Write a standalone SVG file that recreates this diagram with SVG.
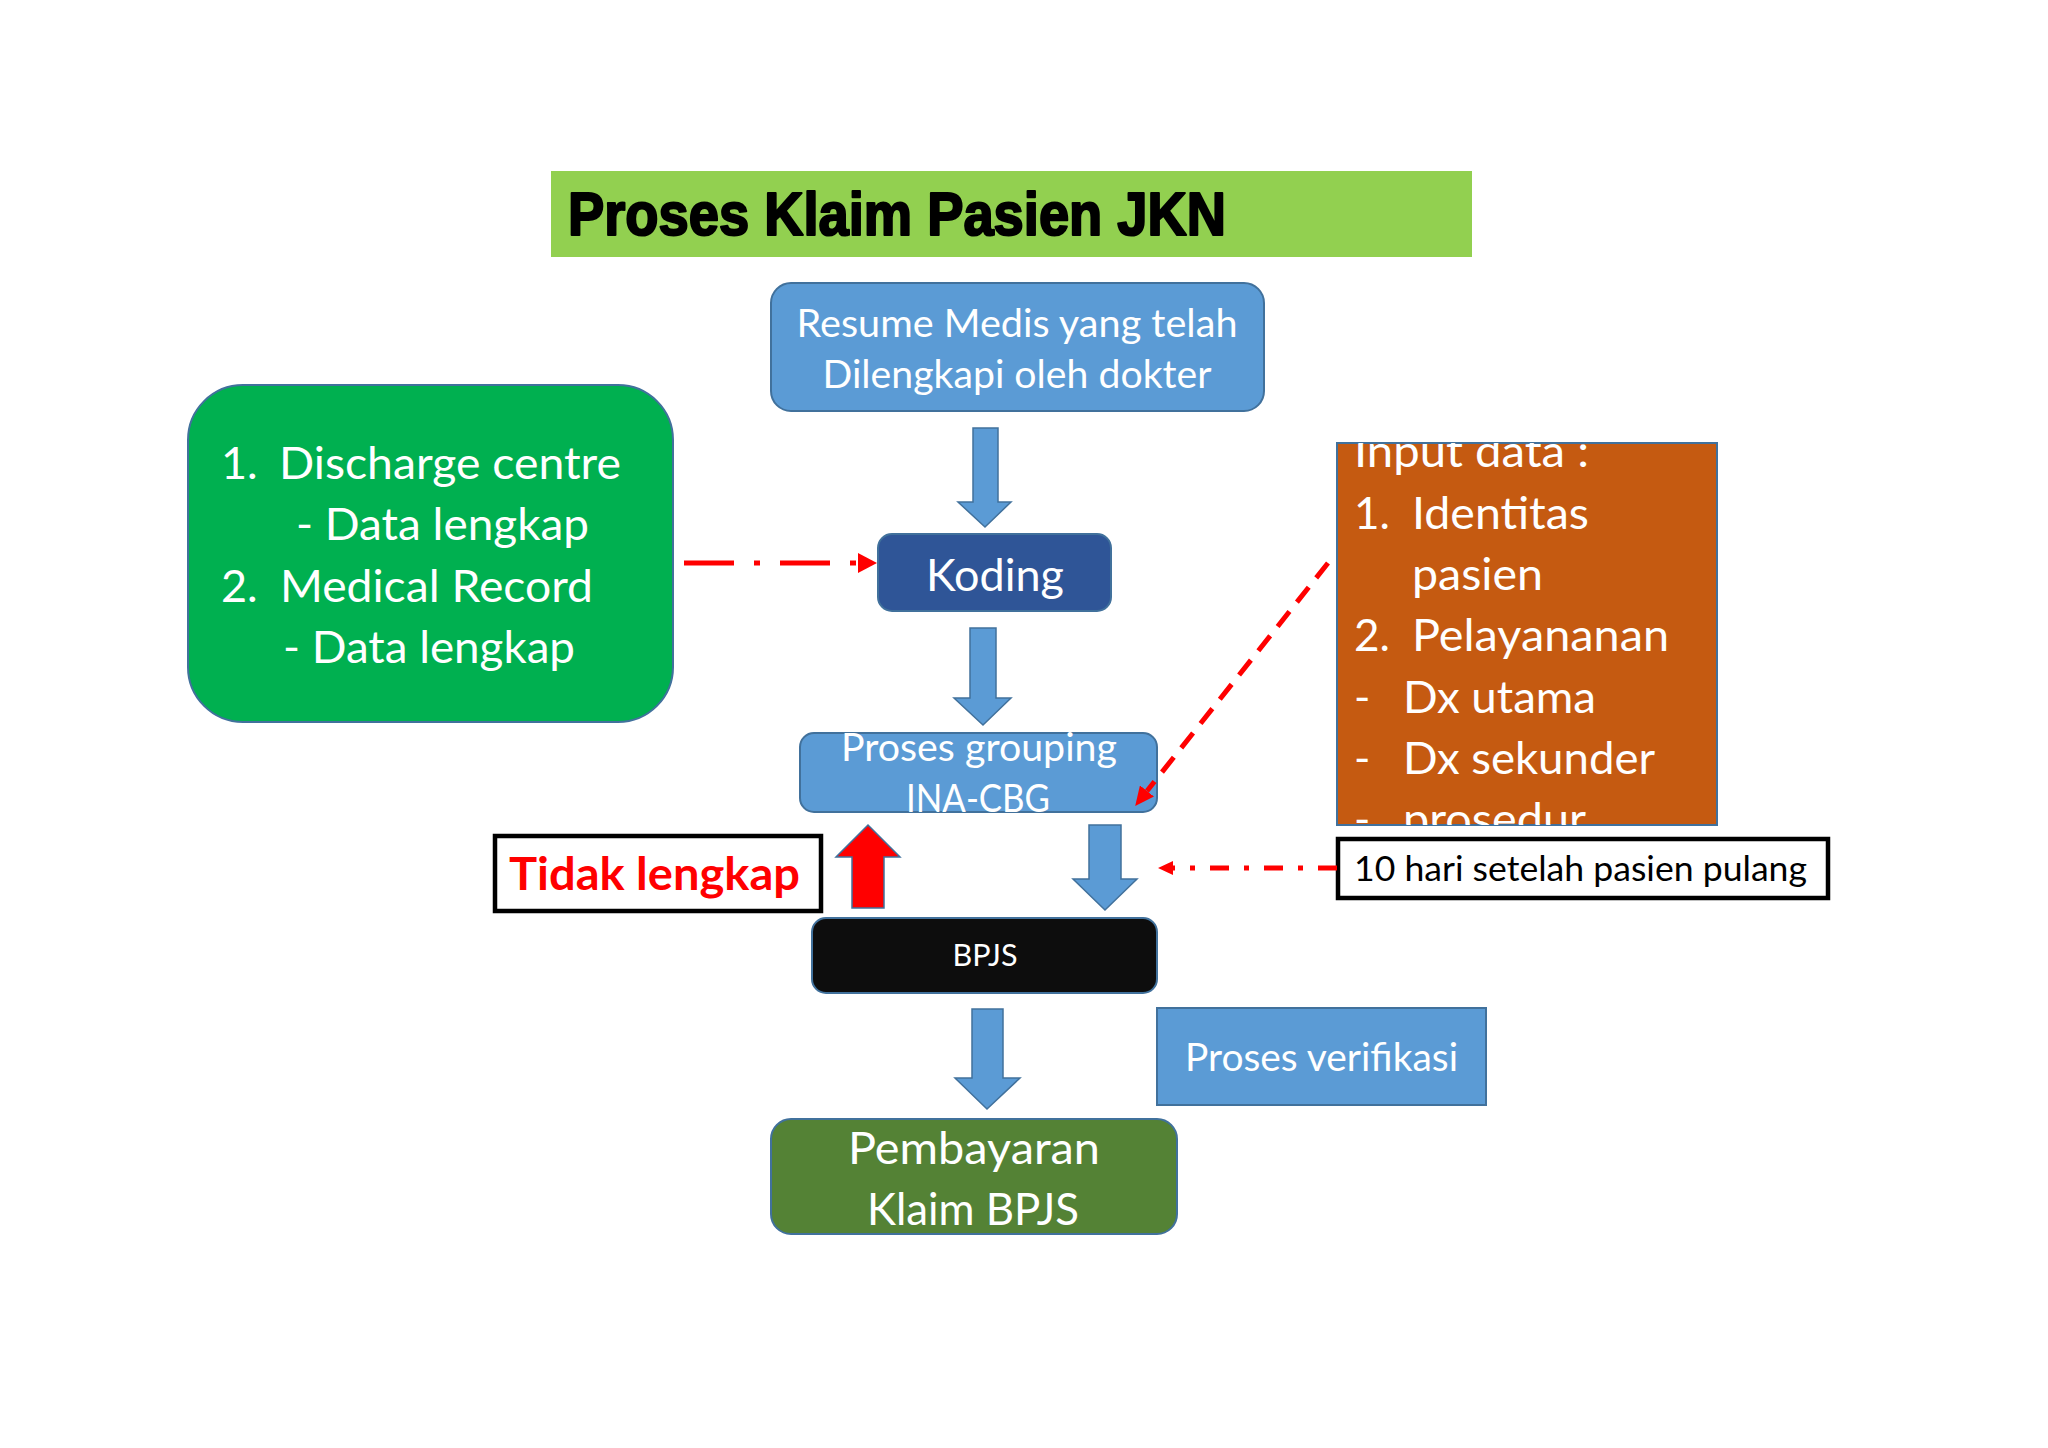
<svg xmlns="http://www.w3.org/2000/svg" width="2048" height="1448" viewBox="0 0 2048 1448">
<style>
.t{font-family:Lato,"Liberation Sans",sans-serif;fill:#FFFFFF}
.box{stroke:#41719C;stroke-width:2}
.blk{fill:#5B9BD5;stroke:#41719C;stroke-width:1.5}
.red{fill:none;stroke:#FF0000;stroke-width:5}
</style>
<defs>
<marker id="ahA" markerUnits="userSpaceOnUse" markerWidth="20" markerHeight="20" refX="0" refY="10" orient="auto"><path d="M0,0 L19,10 L0,20 Z" fill="#FF0000"/></marker>
<marker id="ahB" markerUnits="userSpaceOnUse" markerWidth="16" markerHeight="14" refX="0" refY="7" orient="auto"><path d="M0,0 L15,7 L0,14 Z" fill="#FF0000"/></marker>
<marker id="ahC" markerUnits="userSpaceOnUse" markerWidth="20" markerHeight="18" refX="0" refY="9" orient="auto"><path d="M0,0 L19,9 L0,18 Z" fill="#FF0000"/></marker>
<clipPath id="clipInput"><rect x="1337" y="443" width="380" height="382"/></clipPath>
</defs>
<rect width="2048" height="1448" fill="#FFFFFF"/>

<g id="title">
<rect x="551" y="171" width="921" height="86" fill="#92D050"/>
<text x="568" y="235" font-family="'Liberation Sans Narrow','Liberation Sans',sans-serif" font-weight="bold" font-size="62" fill="#000000" stroke="#000000" stroke-width="2.2" stroke-linejoin="round" textLength="658" lengthAdjust="spacingAndGlyphs">Proses Klaim Pasien JKN</text>
</g>

<g id="resume">
<rect class="box" x="771" y="283" width="493" height="128" rx="20" fill="#5B9BD5"/>
<text class="t" x="1017" y="337" font-size="38" text-anchor="middle" textLength="441" lengthAdjust="spacingAndGlyphs">Resume Medis yang telah</text>
<text class="t" x="1017" y="388" font-size="38" text-anchor="middle" textLength="389" lengthAdjust="spacingAndGlyphs">Dilengkapi oleh dokter</text>
</g>

<g id="sources">
<rect class="box" x="188" y="385" width="485" height="337" rx="55" fill="#00B050"/>
<text class="t" font-size="45"><tspan x="221" y="479">1.</tspan><tspan x="279" y="479" textLength="342" lengthAdjust="spacingAndGlyphs">Discharge centre</tspan></text>
<text class="t" x="296" y="540" font-size="45" textLength="293" lengthAdjust="spacingAndGlyphs">- Data lengkap</text>
<text class="t" font-size="45"><tspan x="221" y="602">2.</tspan><tspan x="280" y="602" textLength="313" lengthAdjust="spacingAndGlyphs">Medical Record</tspan></text>
<text class="t" x="283" y="663" font-size="45" textLength="292" lengthAdjust="spacingAndGlyphs">- Data lengkap</text>
</g>

<g id="koding">
<rect class="box" x="878" y="534" width="233" height="77" rx="14" fill="#2F5597"/>
<text class="t" x="995" y="591" font-size="44" text-anchor="middle" textLength="138" lengthAdjust="spacingAndGlyphs">Koding</text>
</g>

<g id="input-data">
<rect class="box" x="1337" y="443" width="380" height="382" fill="#C55A11"/>
<g clip-path="url(#clipInput)" class="t" font-size="44">
<text x="1354" y="467" textLength="235" lengthAdjust="spacingAndGlyphs">Input data :</text>
<text x="1354" y="529">1.</text>
<text x="1412" y="529" textLength="177" lengthAdjust="spacingAndGlyphs">Identitas</text>
<text x="1412" y="590" textLength="131" lengthAdjust="spacingAndGlyphs">pasien</text>
<text x="1354" y="651">2.</text>
<text x="1412" y="651" textLength="257" lengthAdjust="spacingAndGlyphs">Pelayananan</text>
<text x="1354" y="713">-</text>
<text x="1403" y="713" textLength="193" lengthAdjust="spacingAndGlyphs">Dx utama</text>
<text x="1354" y="774">-</text>
<text x="1403" y="774" textLength="252" lengthAdjust="spacingAndGlyphs">Dx sekunder</text>
<text x="1354" y="835">-</text>
<text x="1403" y="835" textLength="183" lengthAdjust="spacingAndGlyphs">prosedur</text>
</g>
</g>

<g id="grouping">
<rect class="box" x="800" y="733" width="357" height="79" rx="14" fill="#5B9BD5"/>
<text class="t" x="979" y="761" font-size="38" text-anchor="middle" textLength="276" lengthAdjust="spacingAndGlyphs">Proses grouping</text>
<text class="t" x="978" y="812" font-size="38" text-anchor="middle" textLength="144" lengthAdjust="spacingAndGlyphs">INA-CBG</text>
</g>

<g id="deadline">
<rect x="1338" y="839" width="490" height="59" fill="#FFFFFF" stroke="#000000" stroke-width="4.5"/>
<text x="1354" y="881" font-family="Lato,'Liberation Sans',sans-serif" font-size="34" fill="#000000" textLength="453" lengthAdjust="spacingAndGlyphs">10 hari setelah pasien pulang</text>
</g>

<g id="tidak-lengkap">
<rect x="495" y="836" width="326" height="75" fill="#FFFFFF" stroke="#000000" stroke-width="4.5"/>
<text x="509" y="890" font-family="Lato,'Liberation Sans',sans-serif" font-weight="bold" font-size="46" fill="#FF0000" textLength="291" lengthAdjust="spacingAndGlyphs">Tidak lengkap</text>
</g>

<g id="bpjs">
<rect class="box" x="812" y="918" width="345" height="75" rx="14" fill="#0D0D0D"/>
<text class="t" x="985" y="966" font-size="31.5" text-anchor="middle" textLength="65" lengthAdjust="spacingAndGlyphs">BPJS</text>
</g>

<g id="verifikasi">
<rect class="box" x="1157" y="1008" width="329" height="97" fill="#5B9BD5"/>
<text class="t" x="1185" y="1071" font-size="38" textLength="273" lengthAdjust="spacingAndGlyphs">Proses verifikasi</text>
</g>

<g id="pembayaran">
<rect class="box" x="771" y="1119" width="406" height="115" rx="20" fill="#548235"/>
<text class="t" x="974" y="1164" font-size="44" text-anchor="middle" textLength="252" lengthAdjust="spacingAndGlyphs">Pembayaran</text>
<text class="t" x="973" y="1225" font-size="44" text-anchor="middle" textLength="212" lengthAdjust="spacingAndGlyphs">Klaim BPJS</text>
</g>

<g id="connectors">
<polygon class="blk" points="973,428 998,428 998,502 1011,502 985,527 958,502 973,502"/>
<polygon class="blk" points="970,628 996,628 996,698 1011,698 983,725 954,698 970,698"/>
<polygon class="blk" points="1089,825 1121,825 1121,879 1137,879 1105,910 1073,879 1089,879"/>
<polygon class="blk" points="972,1009 1003,1009 1003,1078 1020,1078 987,1109 955,1078 972,1078"/>
<polygon points="852,908 884,908 884,857 900,857 868,825 836,857 852,857" fill="#FF0000" stroke="#41719C" stroke-width="1.5"/>
<path class="red" d="M684,563 L858,563" stroke-width="6" stroke-dasharray="50 20 6 20" marker-end="url(#ahA)"/>
<path class="red" d="M1337,868 L1173,868" stroke-width="5" stroke-dasharray="19 15 5 15" marker-end="url(#ahB)"/>
<path class="red" d="M1328,563 L1147,791" stroke-width="5" stroke-dasharray="19 12" marker-end="url(#ahC)"/>
</g>
</svg>
